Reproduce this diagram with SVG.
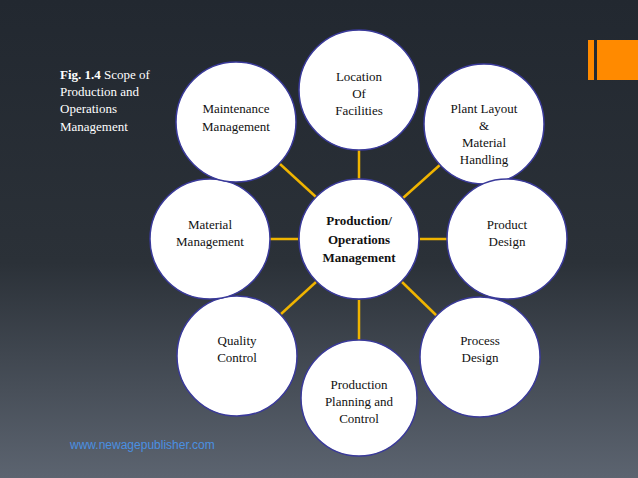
<svg xmlns="http://www.w3.org/2000/svg" width="638" height="478" viewBox="0 0 638 478">
<defs>
<linearGradient id="bg" x1="0" y1="0" x2="0" y2="1">
<stop offset="0" stop-color="#222830"/><stop offset="0.55" stop-color="#2b3138"/><stop offset="1" stop-color="#5c6470"/>
</linearGradient>
<style>
.c{fill:#fff;stroke:#3a3a9a;stroke-width:1.5}
.t{font-family:"Liberation Serif",serif;font-size:13px;fill:#111;text-anchor:middle}
.b{font-weight:bold}
.l{stroke:#f0b400;stroke-width:2.5}
</style>
</defs>
<rect width="638" height="478" fill="url(#bg)"/>
<rect x="588" y="40" width="6" height="40" fill="#ff8a00"/>
<rect x="597" y="40" width="41" height="40" fill="#ff8a00"/>
<text x="60" y="79" font-family="Liberation Serif,serif" font-size="13" fill="#fff"><tspan font-weight="bold">Fig. 1.4</tspan> Scope of</text>
<text font-family="Liberation Serif,serif" font-size="13" fill="#fff"><tspan x="60" y="96"> Production and</tspan><tspan x="60" y="113">Operations</tspan><tspan x="60" y="131">Management</tspan></text>
<text x="70" y="449" font-family="Liberation Sans,sans-serif" font-size="12" fill="#4a90e2">www.newagepublisher.com</text>
<g id="connectors">
<line class="l" x1="359" y1="150" x2="359" y2="180"/>
<line class="l" x1="441" y1="164" x2="403" y2="198"/>
<line class="l" x1="447" y1="239" x2="420" y2="239"/>
<line class="l" x1="437" y1="316" x2="402" y2="282"/>
<line class="l" x1="359" y1="340" x2="359" y2="300"/>
<line class="l" x1="281" y1="314" x2="316" y2="282"/>
<line class="l" x1="270" y1="239" x2="298" y2="239"/>
<line class="l" x1="280" y1="164" x2="316" y2="197"/>
</g>
<g id="loc"><circle class="c" cx="359" cy="90" r="60"/><text class="t"><tspan x="359" y="81">Location</tspan><tspan x="359" y="98">Of</tspan><tspan x="359" y="115">Facilities</tspan></text></g>
<g id="plant"><circle class="c" cx="484" cy="124" r="60"/><text class="t"><tspan x="484" y="113">Plant Layout</tspan><tspan x="484" y="130">&amp;</tspan><tspan x="484" y="147">Material</tspan><tspan x="484" y="164">Handling</tspan></text></g>
<g id="product"><circle class="c" cx="507" cy="239" r="60"/><text class="t"><tspan x="507" y="229">Product</tspan><tspan x="507" y="246">Design</tspan></text></g>
<g id="process"><circle class="c" cx="480" cy="357" r="60"/><text class="t"><tspan x="480" y="345">Process</tspan><tspan x="480" y="362">Design</tspan></text></g>
<g id="ppc"><circle class="c" cx="359" cy="398" r="58"/><text class="t"><tspan x="359" y="389">Production</tspan><tspan x="359" y="406">Planning and</tspan><tspan x="359" y="423">Control</tspan></text></g>
<g id="quality"><circle class="c" cx="237" cy="356" r="60"/><text class="t"><tspan x="237" y="345">Quality</tspan><tspan x="237" y="362">Control</tspan></text></g>
<g id="material"><circle class="c" cx="210" cy="239" r="60"/><text class="t"><tspan x="210" y="229">Material</tspan><tspan x="210" y="246">Management</tspan></text></g>
<g id="maint"><circle class="c" cx="236" cy="122" r="60"/><text class="t"><tspan x="236" y="113">Maintenance</tspan><tspan x="236" y="131">Management</tspan></text></g>
<g id="center"><circle class="c" cx="359" cy="239" r="60"/><text class="t b"><tspan x="359" y="225">Production/</tspan><tspan x="359" y="244">Operations</tspan><tspan x="359" y="262">Management</tspan></text></g>
</svg>
